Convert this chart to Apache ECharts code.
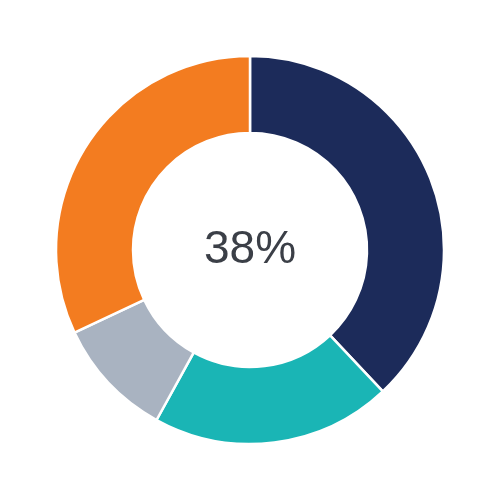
<!DOCTYPE html>
<html>
<head>
<meta charset="utf-8">
<script src="https://cdn.jsdelivr.net/npm/echarts@6/dist/echarts.min.js"></script>
<style>html,body{margin:0;padding:0;background:#fff;}#c{width:500px;height:500px;}</style>
</head>
<body>
<div id="c"></div>
<script>
const categories = ['A', 'B', 'C', 'D'];
const values = [38, 20, 10, 32];
const colors = ['#1c2b5a', '#1ab5b5', '#a9b3c1', '#f37c20'];
const centerLabel = '38%';

const chart = echarts.init(document.getElementById('c'));
chart.setOption({
  animation: false,
  series: [{
    type: 'pie',
    center: [250, 250],
    radius: [117, 194],
    startAngle: 90,
    clockwise: true,
    label: { show: false },
    labelLine: { show: false },
    itemStyle: { borderColor: '#fff', borderWidth: 2.5 },
    data: categories.map((c, i) => ({ name: c, value: values[i], itemStyle: { color: colors[i] } }))
  }],
  graphic: [{
    type: 'text',
    left: 'center',
    top: 'middle',
    style: {
      text: centerLabel,
      font: '46px "Liberation Sans", Arial, sans-serif',
      fill: '#3b3f47',
      textAlign: 'center',
      textVerticalAlign: 'middle'
    },
    x: 250, y: 246
  }]
});
</script>
</body>
</html>
